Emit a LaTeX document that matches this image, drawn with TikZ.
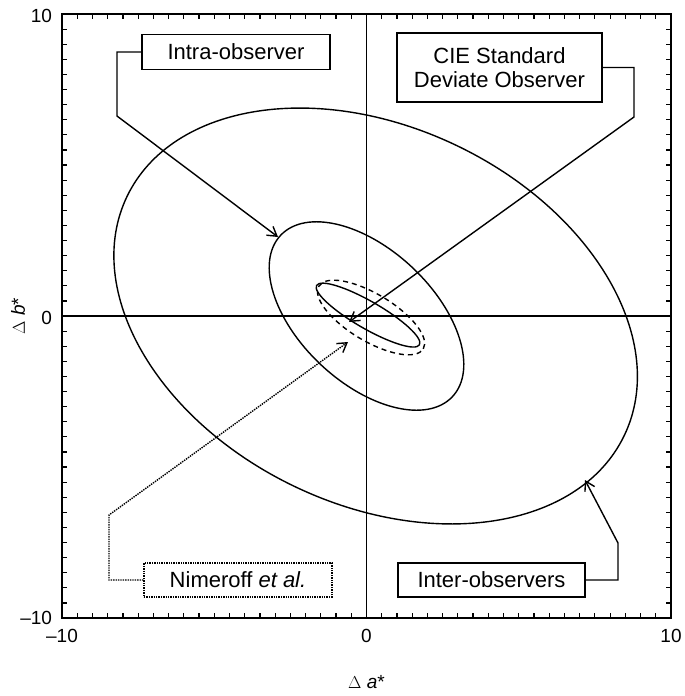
\documentclass[tikz,border=0pt]{standalone}
\usepackage{fontspec}
\setmainfont{Liberation Sans}
\usetikzlibrary{arrows.meta}
\begin{document}
\begin{tikzpicture}[x=1pt,y=-1pt,line width=1.4pt,
  lbl/.style={draw,line width=1.4pt,inner sep=0pt,font=\fontsize{22}{26}\selectfont,align=center},
  conn/.style={line width=1.4pt,-{Straight Barb[length=9pt,width=11pt,line width=1.4pt]}},
  tick/.style={line width=1.2pt},
  num/.style={font=\fontsize{19}{22}\selectfont}]
\useasboundingbox (0,0) rectangle (685,696);
% frame
\draw[line width=1.5pt] (62,14) rectangle (671,618);
\draw[line width=1.2pt] (366.5,14) -- (366.5,618);
\draw[line width=1.2pt] (62,316) -- (671,316);
\foreach \i in {1,...,39}{
  \pgfmathsetmacro{\xx}{62+\i*15.225}
  \pgfmathsetmacro{\yy}{14+\i*15.1}
  \draw[tick] (\xx,14) -- (\xx,19);
  \draw[tick] (\xx,618) -- (\xx,613);
  \draw[tick] (62,\yy) -- (67,\yy);
  \draw[tick] (671,\yy) -- (666,\yy);
}
% tick labels
\node[num,anchor=east] (l10) at (56,16) {10};
\node[num,anchor=east] (l0) at (56,318) {0};
\node[num,anchor=east] (lm10) at (56,618) {\textendash10};
\node[num,anchor=north] (b10) at (62,625) {\textendash10};
\node[num,anchor=north] (b0) at (366.5,625) {0};
\node[num,anchor=north] (bp10) at (671,625) {10};
\node[num] (ax) at (366.5,682) {$\Delta$ \textit{a}*};
\node[num,rotate=90] (ay) at (18,316) {$\Delta$ \textit{b}*};
% ellipses in data coordinates
\begin{scope}[shift={(366.5,316)},x=30.45pt,y=30.2pt]
\draw[rotate around={-25.7:(0.3,0)}] (0.3,0) ellipse (9.06 and 6.25);
\draw[rotate around={-43.2:(0,0)}] (0,0) ellipse (3.87 and 2.21);
\draw[rotate around={-30:(0.05,0.03)}] (0.05,0.03) ellipse (1.95 and 0.45);
\draw[dashed,dash pattern=on 5pt off 4pt,rotate around={-31:(0.15,-0.05)}] (0.15,-0.05) ellipse (2.0 and 0.78);
\end{scope}
% boxes
\node[lbl,minimum width=188pt,minimum height=35pt] (intra) at (236,52) {Intra-observer};
\node[lbl,minimum width=205pt,minimum height=69pt] (cie) at (499.5,67.5) {CIE Standard\\[-2pt]Deviate Observer};
\node[lbl,densely dotted,minimum width=188pt,minimum height=34pt] (nim) at (238,580) {Nimeroff \textit{et al.}};
\node[lbl,minimum width=187pt,minimum height=34pt] (inter) at (491.5,580) {Inter-observers};
% connector targets
\coordinate (tIntra) at (278,237);
\coordinate (tCie) at (349,322);
\coordinate (tNim) at (348,342);
\coordinate (tInter) at (585,480);
\draw[conn] (intra.west) -- (117,52) -- (117,116) -- (tIntra);
\draw[conn] (cie.east) -- (634,67.5) -- (634,117) -- (tCie);
\draw[conn,densely dotted] (nim.west) -- (109,580) -- (109,515) -- (tNim);
\draw[conn] (inter.east) -- (618,580) -- (618,543) -- (tInter);
\end{tikzpicture}
\end{document}
